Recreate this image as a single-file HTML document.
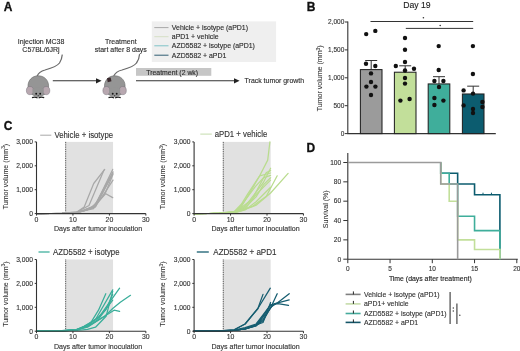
<!DOCTYPE html>
<html><head><meta charset="utf-8"><style>
html,body{margin:0;padding:0;background:#fff;width:520px;height:351px;overflow:hidden}
svg{display:block;font-family:"Liberation Sans", sans-serif;will-change:transform}
</style></head><body><div id="w">
<svg width="520" height="351" viewBox="0 0 520 351">
<rect width="520" height="351" fill="#fff"/>
<text transform="translate(3.7,11.1) scale(1,1.1)" font-size="12" text-anchor="start" fill="#111" font-weight="bold" stroke="#111" stroke-width="0.3">A</text>
<text transform="translate(41,44) scale(1,1.08)" font-size="7" text-anchor="middle" fill="#2b2b2b" font-weight="normal" stroke="#2b2b2b" stroke-width="0.12">Injection MC38</text>
<text transform="translate(41,51.5) scale(1,1.08)" font-size="7" text-anchor="middle" fill="#2b2b2b" font-weight="normal" stroke="#2b2b2b" stroke-width="0.12">C57BL/6JRj</text>
<text transform="translate(120.8,43.8) scale(1,1.08)" font-size="7" text-anchor="middle" fill="#2b2b2b" font-weight="normal" stroke="#2b2b2b" stroke-width="0.12">Treatment</text>
<text transform="translate(120.8,51.8) scale(1,1.08)" font-size="7" text-anchor="middle" fill="#2b2b2b" font-weight="normal" stroke="#2b2b2b" stroke-width="0.12">start after 8 days</text>
<g transform="translate(0,0)"><path d="M37.2,76 C38.5,72.5 41,71 45,70 C52,68 57,66.5 59.5,63 C61.5,60 62,57.5 62.2,55" fill="none" stroke="#6a6a6a" stroke-width="1.25" stroke-linecap="round"/><path d="M38,75.8 C44,75.6 48.6,80 48.6,86 C48.6,91.5 45,96.2 38.2,96.2 C31.5,96.2 28,91.5 28,86 C28,80.5 32,75.9 38,75.8 Z" fill="#959595" stroke="#6a6a6a" stroke-width="0.6"/><ellipse cx="29.9" cy="90.6" rx="3.5" ry="4.1" fill="#b8a8b0" stroke="#77707a" stroke-width="0.5"/><ellipse cx="46.3" cy="90.6" rx="3.5" ry="4.1" fill="#b8a8b0" stroke="#77707a" stroke-width="0.5"/><path d="M32.6,89.5 C33.6,87 42.6,87 43.6,89.5 C44.4,93 41.5,97 38.1,97 C34.7,97 31.8,93 32.6,89.5 Z" fill="#959595"/><circle cx="36.2" cy="93.7" r="0.95" fill="#151515"/><circle cx="40.2" cy="93.7" r="0.95" fill="#151515"/><circle cx="38.2" cy="95.7" r="0.6" fill="#333"/><path d="M32,97.6 Q35,96.4 37.6,97.9 M38.6,97.9 Q41.2,96.4 44.2,97.6" fill="none" stroke="#1d1d1d" stroke-width="1.2"/></g>
<g transform="translate(76.5,0)"><path d="M37.5,75.6 C39,72.5 41.5,71 45.5,70 C52.5,68 57.5,66.5 60,63 C62.3,60 62.8,57.5 63,54.5" fill="none" stroke="#6a6a6a" stroke-width="1.25" stroke-linecap="round"/><path d="M38,75.8 C44,75.6 48.6,80 48.6,86 C48.6,91.5 45,96.2 38.2,96.2 C31.5,96.2 28,91.5 28,86 C28,80.5 32,75.9 38,75.8 Z" fill="#959595" stroke="#6a6a6a" stroke-width="0.6"/><ellipse cx="29.9" cy="90.6" rx="3.5" ry="4.1" fill="#b8a8b0" stroke="#77707a" stroke-width="0.5"/><ellipse cx="46.3" cy="90.6" rx="3.5" ry="4.1" fill="#b8a8b0" stroke="#77707a" stroke-width="0.5"/><path d="M32.6,89.5 C33.6,87 42.6,87 43.6,89.5 C44.4,93 41.5,97 38.1,97 C34.7,97 31.8,93 32.6,89.5 Z" fill="#959595"/><circle cx="36.2" cy="93.7" r="0.95" fill="#151515"/><circle cx="40.2" cy="93.7" r="0.95" fill="#151515"/><circle cx="38.2" cy="95.7" r="0.6" fill="#333"/><path d="M32,97.6 Q35,96.4 37.6,97.9 M38.6,97.9 Q41.2,96.4 44.2,97.6" fill="none" stroke="#1d1d1d" stroke-width="1.2"/><rect x="30.8" y="77.8" width="3.8" height="4" fill="#3b2a2e" transform="rotate(-12 32.6 79.8)"/></g>
<line x1="52.8" y1="80.8" x2="97" y2="80.8" stroke="#333" stroke-width="1.1" />
<path d="M96 78.2 L101.6 80.8 L96 83.4 Z" fill="#222"/>
<line x1="136" y1="80.8" x2="235" y2="80.8" stroke="#333" stroke-width="1.1" />
<path d="M234 78.2 L239.6 80.8 L234 83.4 Z" fill="#222"/>
<rect x="136" y="68" width="75.3" height="7.8" fill="#c6c6c6"/>
<text transform="translate(172.2,74.6) scale(1,1.08)" font-size="6.9" text-anchor="middle" fill="#2b2b2b" font-weight="normal" stroke="#2b2b2b" stroke-width="0.12">Treatment (2 wk)</text>
<text transform="translate(244.6,82.8) scale(1,1.08)" font-size="6.95" text-anchor="start" fill="#2b2b2b" font-weight="normal" stroke="#2b2b2b" stroke-width="0.12">Track tumor growth</text>
<rect x="151.8" y="21.4" width="124.3" height="40.6" fill="#efefef"/>
<line x1="154.3" y1="27.6" x2="168.5" y2="27.6" stroke="#a8a8a8" stroke-width="1" />
<text transform="translate(171.8,30.0) scale(1,1.08)" font-size="6.95" text-anchor="start" fill="#2b2b2b" font-weight="normal" stroke="#2b2b2b" stroke-width="0.12">Vehicle + isotype (aPD1)</text>
<line x1="154.3" y1="36.7" x2="168.5" y2="36.7" stroke="#d6dfc6" stroke-width="1" />
<text transform="translate(171.8,39.1) scale(1,1.08)" font-size="6.95" text-anchor="start" fill="#2b2b2b" font-weight="normal" stroke="#2b2b2b" stroke-width="0.12">aPD1 + vehicle</text>
<line x1="154.3" y1="45.8" x2="168.5" y2="45.8" stroke="#7fc4c8" stroke-width="1" />
<text transform="translate(171.8,48.199999999999996) scale(1,1.08)" font-size="6.95" text-anchor="start" fill="#2b2b2b" font-weight="normal" stroke="#2b2b2b" stroke-width="0.12">AZD5582 + isotype (aPD1)</text>
<line x1="154.3" y1="55.2" x2="168.5" y2="55.2" stroke="#2f5d73" stroke-width="1" />
<text transform="translate(171.8,57.6) scale(1,1.08)" font-size="6.95" text-anchor="start" fill="#2b2b2b" font-weight="normal" stroke="#2b2b2b" stroke-width="0.12">AZD5582 + aPD1</text>
<text transform="translate(306.8,11.1) scale(1,1.1)" font-size="12" text-anchor="start" fill="#111" font-weight="bold" stroke="#111" stroke-width="0.3">B</text>
<text transform="translate(416.9,7.8) scale(1,1.12)" font-size="8.7" text-anchor="middle" fill="#1e1e1e" font-weight="normal" stroke="#1e1e1e" stroke-width="0.12">Day 19</text>
<line x1="347.8" y1="21.5" x2="347.8" y2="133.6" stroke="#333" stroke-width="1.1" />
<line x1="347.3" y1="133.6" x2="495.8" y2="133.6" stroke="#333" stroke-width="1.1" />
<line x1="344.8" y1="133.6" x2="347.8" y2="133.6" stroke="#333" stroke-width="1" />
<text transform="translate(344.3,135.79999999999998) scale(1,1.08)" font-size="6.5" text-anchor="end" fill="#333" font-weight="normal" stroke="#333" stroke-width="0.12">0</text>
<line x1="344.8" y1="105.69999999999999" x2="347.8" y2="105.69999999999999" stroke="#333" stroke-width="1" />
<text transform="translate(344.3,107.89999999999999) scale(1,1.08)" font-size="6.5" text-anchor="end" fill="#333" font-weight="normal" stroke="#333" stroke-width="0.12">500</text>
<line x1="344.8" y1="77.8" x2="347.8" y2="77.8" stroke="#333" stroke-width="1" />
<text transform="translate(344.3,80.0) scale(1,1.08)" font-size="6.5" text-anchor="end" fill="#333" font-weight="normal" stroke="#333" stroke-width="0.12">1,000</text>
<line x1="344.8" y1="49.900000000000006" x2="347.8" y2="49.900000000000006" stroke="#333" stroke-width="1" />
<text transform="translate(344.3,52.10000000000001) scale(1,1.08)" font-size="6.5" text-anchor="end" fill="#333" font-weight="normal" stroke="#333" stroke-width="0.12">1,500</text>
<line x1="344.8" y1="22.0" x2="347.8" y2="22.0" stroke="#333" stroke-width="1" />
<text transform="translate(344.3,24.2) scale(1,1.08)" font-size="6.5" text-anchor="end" fill="#333" font-weight="normal" stroke="#333" stroke-width="0.12">2,000</text>
<text transform="translate(322.4,78.3) rotate(-90) scale(1.06,1)" font-size="6.65" text-anchor="middle" fill="#333" stroke="#333" stroke-width="0.08">Tumor volume (mm<tspan font-size="4.6" dy="-2.5">3</tspan><tspan dy="2.5">)</tspan></text>
<rect x="360.4" y="69.5974" width="21.6" height="64.0026" fill="#9b9b9b" stroke="#222" stroke-width="1.05"/>
<line x1="371.2" y1="60.501999999999995" x2="371.2" y2="69.5974" stroke="#333" stroke-width="1" />
<line x1="365.2" y1="60.501999999999995" x2="377.2" y2="60.501999999999995" stroke="#333" stroke-width="1" />
<rect x="394.4" y="72.22" width="21.6" height="61.379999999999995" fill="#c2df9a" stroke="#222" stroke-width="1.05"/>
<line x1="405.2" y1="65.803" x2="405.2" y2="72.22" stroke="#333" stroke-width="1" />
<line x1="399.2" y1="65.803" x2="411.2" y2="65.803" stroke="#333" stroke-width="1" />
<rect x="428.2" y="83.93799999999999" width="21.6" height="49.662000000000006" fill="#3fae9b" stroke="#222" stroke-width="1.05"/>
<line x1="439.0" y1="76.684" x2="439.0" y2="83.93799999999999" stroke="#333" stroke-width="1" />
<line x1="433.0" y1="76.684" x2="445.0" y2="76.684" stroke="#333" stroke-width="1" />
<rect x="462.4" y="93.982" width="21.6" height="39.617999999999995" fill="#0c5c6f" stroke="#222" stroke-width="1.05"/>
<line x1="473.2" y1="86.17" x2="473.2" y2="93.982" stroke="#333" stroke-width="1" />
<line x1="467.2" y1="86.17" x2="479.2" y2="86.17" stroke="#333" stroke-width="1" />
<circle cx="366.2" cy="34.1" r="2.2" fill="#111"/>
<circle cx="375.3" cy="30.9" r="2.2" fill="#111"/>
<circle cx="366" cy="63.7" r="2.2" fill="#111"/>
<circle cx="375.3" cy="66" r="2.2" fill="#111"/>
<circle cx="371" cy="73.4" r="2.2" fill="#111"/>
<circle cx="371" cy="82" r="2.2" fill="#111"/>
<circle cx="366.4" cy="86.6" r="2.2" fill="#111"/>
<circle cx="375.4" cy="86.6" r="2.2" fill="#111"/>
<circle cx="371" cy="95" r="2.2" fill="#111"/>
<circle cx="405" cy="38" r="2.2" fill="#111"/>
<circle cx="405" cy="49.8" r="2.2" fill="#111"/>
<circle cx="405" cy="62" r="2.2" fill="#111"/>
<circle cx="395.8" cy="66" r="2.2" fill="#111"/>
<circle cx="414" cy="68.7" r="2.2" fill="#111"/>
<circle cx="405" cy="70.5" r="2.2" fill="#111"/>
<circle cx="405" cy="78" r="2.2" fill="#111"/>
<circle cx="405" cy="83.6" r="2.2" fill="#111"/>
<circle cx="400.4" cy="100.6" r="2.2" fill="#111"/>
<circle cx="409.6" cy="99" r="2.2" fill="#111"/>
<circle cx="438.7" cy="46.1" r="2.2" fill="#111"/>
<circle cx="438.7" cy="70" r="2.2" fill="#111"/>
<circle cx="434.4" cy="81" r="2.2" fill="#111"/>
<circle cx="443.4" cy="81" r="2.2" fill="#111"/>
<circle cx="439" cy="87" r="2.2" fill="#111"/>
<circle cx="434.4" cy="98" r="2.2" fill="#111"/>
<circle cx="443.4" cy="100.6" r="2.2" fill="#111"/>
<circle cx="434.4" cy="105" r="2.2" fill="#111"/>
<circle cx="472.9" cy="46.1" r="2.2" fill="#111"/>
<circle cx="472.9" cy="74" r="2.2" fill="#111"/>
<circle cx="463.6" cy="90.4" r="2.2" fill="#111"/>
<circle cx="473" cy="93.6" r="2.2" fill="#111"/>
<circle cx="463.6" cy="105.4" r="2.2" fill="#111"/>
<circle cx="473" cy="109" r="2.2" fill="#111"/>
<circle cx="473" cy="113" r="2.2" fill="#111"/>
<circle cx="482.4" cy="102" r="2.2" fill="#111"/>
<circle cx="482.4" cy="107" r="2.2" fill="#111"/>
<line x1="370.5" y1="21.5" x2="473.2" y2="21.5" stroke="#333" stroke-width="1" />
<line x1="405.8" y1="28.4" x2="473.2" y2="28.4" stroke="#333" stroke-width="1" />
<circle cx="423.4" cy="17.7" r="0.8" fill="#333"/><circle cx="440.2" cy="25.5" r="0.8" fill="#333"/>
<text transform="translate(3.7,129.6) scale(1,1.1)" font-size="12" text-anchor="start" fill="#111" font-weight="bold" stroke="#111" stroke-width="0.3">C</text>
<rect x="65.66" y="141.89999999999998" width="47.385000000000005" height="71.70000000000002" fill="#e1e1e1"/>
<line x1="65.66" y1="141.89999999999998" x2="65.66" y2="213.6" stroke="#333" stroke-width="0.9" stroke-dasharray="1 0.8"/>
<polyline points="36.5,213.6 51.1,213.5 62.0,213.2 76.6,212.2 84.2,207.0 93.7,183.5 104.7,169.4" fill="none" stroke="#a8a8a8" stroke-width="1.25" stroke-linejoin="round" stroke-linecap="round"/>
<polyline points="36.5,213.6 51.1,213.5 62.0,213.2 76.6,212.2 89.0,205.5 103.9,170.2" fill="none" stroke="#a8a8a8" stroke-width="1.25" stroke-linejoin="round" stroke-linecap="round"/>
<polyline points="36.5,213.6 51.1,213.5 62.0,213.4 76.6,212.6 83.9,210.7 93.7,208.6 112.7,169.4" fill="none" stroke="#a8a8a8" stroke-width="1.25" stroke-linejoin="round" stroke-linecap="round"/>
<polyline points="36.5,213.6 51.1,213.5 62.0,213.4 76.6,212.6 83.9,211.0 95.5,207.0 110.9,177.3" fill="none" stroke="#a8a8a8" stroke-width="1.25" stroke-linejoin="round" stroke-linecap="round"/>
<polyline points="36.5,213.6 51.1,213.5 62.0,213.4 76.6,212.4 83.9,210.0 94.8,205.7 105.8,193.7 112.7,197.6" fill="none" stroke="#a8a8a8" stroke-width="1.25" stroke-linejoin="round" stroke-linecap="round"/>
<polyline points="36.5,213.6 51.1,213.5 62.0,213.4 76.6,212.6 83.9,210.7 94.8,206.9 105.8,192.1 113.0,174.2" fill="none" stroke="#a8a8a8" stroke-width="1.25" stroke-linejoin="round" stroke-linecap="round"/>
<polyline points="36.5,213.6 51.1,213.5 62.0,213.4 76.6,212.6 83.9,210.5 94.8,206.4 113.0,173.0" fill="none" stroke="#a8a8a8" stroke-width="1.25" stroke-linejoin="round" stroke-linecap="round"/>
<polyline points="36.5,213.6 51.1,213.5 62.0,213.4 76.6,212.4 83.9,210.0 91.2,207.6 102.1,196.9 113.0,180.1" fill="none" stroke="#a8a8a8" stroke-width="1.25" stroke-linejoin="round" stroke-linecap="round"/>
<polyline points="36.5,213.6 51.1,213.5 62.0,213.4 76.6,212.9 87.5,210.0 94.8,205.2 113.0,171.8" fill="none" stroke="#a8a8a8" stroke-width="1.25" stroke-linejoin="round" stroke-linecap="round"/>
<line x1="36.5" y1="141.89999999999998" x2="36.5" y2="213.6" stroke="#333" stroke-width="1.1" />
<line x1="36.0" y1="213.6" x2="145.85" y2="213.6" stroke="#333" stroke-width="1.1" />
<line x1="34.7" y1="213.6" x2="36.5" y2="213.6" stroke="#333" stroke-width="1" />
<text transform="translate(32.9,215.9) scale(1,1.0)" font-size="6.7" text-anchor="end" fill="#333" font-weight="normal" stroke="#333" stroke-width="0.12">0</text>
<line x1="34.7" y1="189.7" x2="36.5" y2="189.7" stroke="#333" stroke-width="1" />
<text transform="translate(32.9,192.0) scale(1,1.0)" font-size="6.7" text-anchor="end" fill="#333" font-weight="normal" stroke="#333" stroke-width="0.12">1,000</text>
<line x1="34.7" y1="165.79999999999998" x2="36.5" y2="165.79999999999998" stroke="#333" stroke-width="1" />
<text transform="translate(32.9,168.1) scale(1,1.0)" font-size="6.7" text-anchor="end" fill="#333" font-weight="normal" stroke="#333" stroke-width="0.12">2,000</text>
<line x1="34.7" y1="141.89999999999998" x2="36.5" y2="141.89999999999998" stroke="#333" stroke-width="1" />
<text transform="translate(32.9,144.2) scale(1,1.0)" font-size="6.7" text-anchor="end" fill="#333" font-weight="normal" stroke="#333" stroke-width="0.12">3,000</text>
<line x1="36.5" y1="213.6" x2="36.5" y2="215.6" stroke="#333" stroke-width="1" />
<text transform="translate(36.5,221.79999999999998) scale(1,1.08)" font-size="6.9" text-anchor="middle" fill="#333" font-weight="normal" stroke="#333" stroke-width="0.12">0</text>
<line x1="72.95" y1="213.6" x2="72.95" y2="215.6" stroke="#333" stroke-width="1" />
<text transform="translate(72.95,221.79999999999998) scale(1,1.08)" font-size="6.9" text-anchor="middle" fill="#333" font-weight="normal" stroke="#333" stroke-width="0.12">10</text>
<line x1="109.4" y1="213.6" x2="109.4" y2="215.6" stroke="#333" stroke-width="1" />
<text transform="translate(109.4,221.79999999999998) scale(1,1.08)" font-size="6.9" text-anchor="middle" fill="#333" font-weight="normal" stroke="#333" stroke-width="0.12">20</text>
<line x1="145.85" y1="213.6" x2="145.85" y2="215.6" stroke="#333" stroke-width="1" />
<text transform="translate(145.85,221.79999999999998) scale(1,1.08)" font-size="6.9" text-anchor="middle" fill="#333" font-weight="normal" stroke="#333" stroke-width="0.12">30</text>
<text transform="translate(98.0,231.0) scale(1,1.08)" font-size="7.1" text-anchor="middle" fill="#333" font-weight="normal" stroke="#333" stroke-width="0.12">Days after tumor inoculation</text>
<text transform="translate(7.6,176.55) rotate(-90) scale(1.06,1)" font-size="6.6" text-anchor="middle" fill="#333" stroke="#333" stroke-width="0.08">Tumor volume (mm<tspan font-size="4.5" dy="-2.5">3</tspan><tspan dy="2.5">)</tspan></text>
<line x1="40.2" y1="135.2" x2="51.300000000000004" y2="135.2" stroke="#a8a8a8" stroke-width="1" />
<text transform="translate(54.4,137.7) scale(1,1.08)" font-size="7.8" text-anchor="start" fill="#333" font-weight="normal" stroke="#333" stroke-width="0.12">Vehicle + isotype</text>
<rect x="223.26" y="141.89999999999998" width="47.38499999999999" height="71.70000000000002" fill="#e1e1e1"/>
<line x1="223.26" y1="141.89999999999998" x2="223.26" y2="213.6" stroke="#333" stroke-width="0.9" stroke-dasharray="1 0.8"/>
<polyline points="194.1,213.6 208.7,213.5 219.6,213.2 234.2,211.7 241.5,206.4 250.6,191.4 259.7,175.8 267.7,160.1 269.9,141.9" fill="none" stroke="#b9dc8e" stroke-width="1.25" stroke-linejoin="round" stroke-linecap="round"/>
<polyline points="194.1,213.6 208.7,213.5 219.6,213.2 234.2,212.2 241.5,207.6 252.1,199.3 266.3,172.6 270.6,170.6" fill="none" stroke="#b9dc8e" stroke-width="1.25" stroke-linejoin="round" stroke-linecap="round"/>
<polyline points="194.1,213.6 208.7,213.5 219.6,213.2 234.2,212.4 241.5,210.0 252.4,206.4 266.3,196.2 277.2,175.8" fill="none" stroke="#b9dc8e" stroke-width="1.25" stroke-linejoin="round" stroke-linecap="round"/>
<polyline points="194.1,213.6 208.7,213.5 219.6,213.2 234.2,212.6 241.5,210.7 256.1,205.2 270.6,193.0 288.1,173.4" fill="none" stroke="#b9dc8e" stroke-width="1.25" stroke-linejoin="round" stroke-linecap="round"/>
<polyline points="194.1,213.6 208.7,213.5 219.6,213.2 234.2,211.7 241.5,204.0 247.3,194.6 259.7,175.8 270.6,173.0" fill="none" stroke="#b9dc8e" stroke-width="1.25" stroke-linejoin="round" stroke-linecap="round"/>
<polyline points="194.1,213.6 208.7,213.5 219.6,213.2 234.2,212.2 241.5,205.2 255.3,186.7 263.4,177.8 270.6,175.4" fill="none" stroke="#b9dc8e" stroke-width="1.25" stroke-linejoin="round" stroke-linecap="round"/>
<polyline points="194.1,213.6 208.7,213.5 219.6,213.4 234.2,212.6 245.1,207.6 256.1,196.9 263.4,184.9 270.6,177.8" fill="none" stroke="#b9dc8e" stroke-width="1.25" stroke-linejoin="round" stroke-linecap="round"/>
<polyline points="194.1,213.6 208.7,213.5 219.6,213.4 234.2,212.6 245.1,208.8 256.1,194.5 270.6,180.1" fill="none" stroke="#b9dc8e" stroke-width="1.25" stroke-linejoin="round" stroke-linecap="round"/>
<polyline points="194.1,213.6 208.7,213.5 219.6,213.4 234.2,212.9 245.1,210.0 256.1,201.7 270.6,187.3" fill="none" stroke="#b9dc8e" stroke-width="1.25" stroke-linejoin="round" stroke-linecap="round"/>
<polyline points="194.1,213.6 208.7,213.5 219.6,213.4 234.2,212.4 245.1,206.4 256.1,192.1 263.4,182.5 270.6,168.2" fill="none" stroke="#b9dc8e" stroke-width="1.25" stroke-linejoin="round" stroke-linecap="round"/>
<line x1="194.1" y1="141.89999999999998" x2="194.1" y2="213.6" stroke="#333" stroke-width="1.1" />
<line x1="193.6" y1="213.6" x2="303.45" y2="213.6" stroke="#333" stroke-width="1.1" />
<line x1="192.29999999999998" y1="213.6" x2="194.1" y2="213.6" stroke="#333" stroke-width="1" />
<text transform="translate(190.5,215.9) scale(1,1.0)" font-size="6.7" text-anchor="end" fill="#333" font-weight="normal" stroke="#333" stroke-width="0.12">0</text>
<line x1="192.29999999999998" y1="189.7" x2="194.1" y2="189.7" stroke="#333" stroke-width="1" />
<text transform="translate(190.5,192.0) scale(1,1.0)" font-size="6.7" text-anchor="end" fill="#333" font-weight="normal" stroke="#333" stroke-width="0.12">1,000</text>
<line x1="192.29999999999998" y1="165.79999999999998" x2="194.1" y2="165.79999999999998" stroke="#333" stroke-width="1" />
<text transform="translate(190.5,168.1) scale(1,1.0)" font-size="6.7" text-anchor="end" fill="#333" font-weight="normal" stroke="#333" stroke-width="0.12">2,000</text>
<line x1="192.29999999999998" y1="141.89999999999998" x2="194.1" y2="141.89999999999998" stroke="#333" stroke-width="1" />
<text transform="translate(190.5,144.2) scale(1,1.0)" font-size="6.7" text-anchor="end" fill="#333" font-weight="normal" stroke="#333" stroke-width="0.12">3,000</text>
<line x1="194.1" y1="213.6" x2="194.1" y2="215.6" stroke="#333" stroke-width="1" />
<text transform="translate(194.1,221.79999999999998) scale(1,1.08)" font-size="6.9" text-anchor="middle" fill="#333" font-weight="normal" stroke="#333" stroke-width="0.12">0</text>
<line x1="230.55" y1="213.6" x2="230.55" y2="215.6" stroke="#333" stroke-width="1" />
<text transform="translate(230.55,221.79999999999998) scale(1,1.08)" font-size="6.9" text-anchor="middle" fill="#333" font-weight="normal" stroke="#333" stroke-width="0.12">10</text>
<line x1="267.0" y1="213.6" x2="267.0" y2="215.6" stroke="#333" stroke-width="1" />
<text transform="translate(267.0,221.79999999999998) scale(1,1.08)" font-size="6.9" text-anchor="middle" fill="#333" font-weight="normal" stroke="#333" stroke-width="0.12">20</text>
<line x1="303.45" y1="213.6" x2="303.45" y2="215.6" stroke="#333" stroke-width="1" />
<text transform="translate(303.45,221.79999999999998) scale(1,1.08)" font-size="6.9" text-anchor="middle" fill="#333" font-weight="normal" stroke="#333" stroke-width="0.12">30</text>
<text transform="translate(255.6,231.0) scale(1,1.08)" font-size="7.1" text-anchor="middle" fill="#333" font-weight="normal" stroke="#333" stroke-width="0.12">Days after tumor inoculation</text>
<text transform="translate(165.2,176.55) rotate(-90) scale(1.06,1)" font-size="6.6" text-anchor="middle" fill="#333" stroke="#333" stroke-width="0.08">Tumor volume (mm<tspan font-size="4.5" dy="-2.5">3</tspan><tspan dy="2.5">)</tspan></text>
<line x1="200.3" y1="134.1" x2="211.8" y2="134.1" stroke="#c4dcae" stroke-width="1" />
<text transform="translate(214.7,136.6) scale(1,1.08)" font-size="7.8" text-anchor="start" fill="#333" font-weight="normal" stroke="#333" stroke-width="0.12">aPD1 + vehicle</text>
<rect x="65.66" y="259.5" width="47.385000000000005" height="71.69999999999999" fill="#e1e1e1"/>
<line x1="65.66" y1="259.5" x2="65.66" y2="331.2" stroke="#333" stroke-width="0.9" stroke-dasharray="1 0.8"/>
<polyline points="36.5,331.2 51.1,331.0 62.0,330.7 76.6,329.3 89.0,325.7 98.5,310.2 105.8,293.7" fill="none" stroke="#3aae9a" stroke-width="1.25" stroke-linejoin="round" stroke-linecap="round"/>
<polyline points="36.5,331.2 51.1,331.0 62.0,330.7 76.6,329.5 83.9,326.4 95.5,319.5 112.7,289.9" fill="none" stroke="#3aae9a" stroke-width="1.25" stroke-linejoin="round" stroke-linecap="round"/>
<polyline points="36.5,331.2 51.1,331.0 62.0,330.8 76.6,329.8 83.9,326.9 98.5,317.8 119.6,288.2" fill="none" stroke="#3aae9a" stroke-width="1.25" stroke-linejoin="round" stroke-linecap="round"/>
<polyline points="36.5,331.2 51.1,331.0 62.0,330.8 76.6,330.0 87.5,326.4 104.7,316.3 112.7,308.5 120.3,302.3 130.5,295.3" fill="none" stroke="#3aae9a" stroke-width="1.25" stroke-linejoin="round" stroke-linecap="round"/>
<polyline points="36.5,331.2 51.1,331.0 62.0,330.8 76.6,330.0 87.5,327.1 102.1,317.8 114.1,310.2 119.6,311.4" fill="none" stroke="#3aae9a" stroke-width="1.25" stroke-linejoin="round" stroke-linecap="round"/>
<polyline points="36.5,331.2 51.1,331.1 62.0,331.0 76.6,330.5 87.5,329.3 95.5,327.2 106.1,316.3 112.7,291.3" fill="none" stroke="#3aae9a" stroke-width="1.25" stroke-linejoin="round" stroke-linecap="round"/>
<polyline points="36.5,331.2 51.1,331.0 62.0,330.8 76.6,329.8 87.5,325.2 98.5,316.9 105.8,309.7 112.7,294.2" fill="none" stroke="#3aae9a" stroke-width="1.25" stroke-linejoin="round" stroke-linecap="round"/>
<polyline points="36.5,331.2 51.1,331.0 62.0,330.8 76.6,329.8 87.5,326.4 98.5,319.2 112.7,300.1" fill="none" stroke="#3aae9a" stroke-width="1.25" stroke-linejoin="round" stroke-linecap="round"/>
<line x1="36.5" y1="259.5" x2="36.5" y2="331.2" stroke="#333" stroke-width="1.1" />
<line x1="36.0" y1="331.2" x2="145.85" y2="331.2" stroke="#333" stroke-width="1.1" />
<line x1="34.7" y1="331.2" x2="36.5" y2="331.2" stroke="#333" stroke-width="1" />
<text transform="translate(32.9,333.5) scale(1,1.0)" font-size="6.7" text-anchor="end" fill="#333" font-weight="normal" stroke="#333" stroke-width="0.12">0</text>
<line x1="34.7" y1="307.3" x2="36.5" y2="307.3" stroke="#333" stroke-width="1" />
<text transform="translate(32.9,309.6) scale(1,1.0)" font-size="6.7" text-anchor="end" fill="#333" font-weight="normal" stroke="#333" stroke-width="0.12">1,000</text>
<line x1="34.7" y1="283.4" x2="36.5" y2="283.4" stroke="#333" stroke-width="1" />
<text transform="translate(32.9,285.7) scale(1,1.0)" font-size="6.7" text-anchor="end" fill="#333" font-weight="normal" stroke="#333" stroke-width="0.12">2,000</text>
<line x1="34.7" y1="259.5" x2="36.5" y2="259.5" stroke="#333" stroke-width="1" />
<text transform="translate(32.9,261.8) scale(1,1.0)" font-size="6.7" text-anchor="end" fill="#333" font-weight="normal" stroke="#333" stroke-width="0.12">3,000</text>
<line x1="36.5" y1="331.2" x2="36.5" y2="333.2" stroke="#333" stroke-width="1" />
<text transform="translate(36.5,339.4) scale(1,1.08)" font-size="6.9" text-anchor="middle" fill="#333" font-weight="normal" stroke="#333" stroke-width="0.12">0</text>
<line x1="72.95" y1="331.2" x2="72.95" y2="333.2" stroke="#333" stroke-width="1" />
<text transform="translate(72.95,339.4) scale(1,1.08)" font-size="6.9" text-anchor="middle" fill="#333" font-weight="normal" stroke="#333" stroke-width="0.12">10</text>
<line x1="109.4" y1="331.2" x2="109.4" y2="333.2" stroke="#333" stroke-width="1" />
<text transform="translate(109.4,339.4) scale(1,1.08)" font-size="6.9" text-anchor="middle" fill="#333" font-weight="normal" stroke="#333" stroke-width="0.12">20</text>
<line x1="145.85" y1="331.2" x2="145.85" y2="333.2" stroke="#333" stroke-width="1" />
<text transform="translate(145.85,339.4) scale(1,1.08)" font-size="6.9" text-anchor="middle" fill="#333" font-weight="normal" stroke="#333" stroke-width="0.12">30</text>
<text transform="translate(98.0,348.59999999999997) scale(1,1.08)" font-size="7.1" text-anchor="middle" fill="#333" font-weight="normal" stroke="#333" stroke-width="0.12">Days after tumor inoculation</text>
<text transform="translate(7.6,294.15000000000003) rotate(-90) scale(1.06,1)" font-size="6.6" text-anchor="middle" fill="#333" stroke="#333" stroke-width="0.08">Tumor volume (mm<tspan font-size="4.5" dy="-2.5">3</tspan><tspan dy="2.5">)</tspan></text>
<line x1="38.5" y1="252" x2="49.6" y2="252" stroke="#3aae9a" stroke-width="1.25" />
<text transform="translate(53,254.5) scale(1,1.08)" font-size="7.8" text-anchor="start" fill="#333" font-weight="normal" stroke="#333" stroke-width="0.12">AZD5582 + isotype</text>
<rect x="223.26" y="259.5" width="47.38499999999999" height="71.69999999999999" fill="#e1e1e1"/>
<line x1="223.26" y1="259.5" x2="223.26" y2="331.2" stroke="#333" stroke-width="0.9" stroke-dasharray="1 0.8"/>
<polyline points="194.1,331.2 208.7,331.1 219.6,330.8 234.2,329.8 245.1,324.0 257.9,308.5 263.0,294.4" fill="none" stroke="#165d70" stroke-width="1.25" stroke-linejoin="round" stroke-linecap="round"/>
<polyline points="194.1,331.2 208.7,331.1 219.6,330.8 234.2,329.8 245.1,324.0 257.9,308.5 270.3,288.2" fill="none" stroke="#165d70" stroke-width="1.25" stroke-linejoin="round" stroke-linecap="round"/>
<polyline points="194.1,331.2 208.7,331.1 219.6,331.0 234.2,330.5 245.1,328.8 256.1,325.2 263.4,319.2 270.3,308.5 277.2,293.7" fill="none" stroke="#165d70" stroke-width="1.25" stroke-linejoin="round" stroke-linecap="round"/>
<polyline points="194.1,331.2 208.7,331.1 219.6,331.0 234.2,330.5 245.1,328.8 256.1,325.7 263.4,320.4 270.6,307.3 277.9,302.5 289.2,293.7" fill="none" stroke="#165d70" stroke-width="1.25" stroke-linejoin="round" stroke-linecap="round"/>
<polyline points="194.1,331.2 208.7,331.1 219.6,331.0 234.2,330.5 245.1,329.0 256.1,325.9 263.4,316.9 273.9,303.8 289.2,299.9" fill="none" stroke="#165d70" stroke-width="1.25" stroke-linejoin="round" stroke-linecap="round"/>
<polyline points="194.1,331.2 208.7,331.1 219.6,331.0 234.2,330.5 245.1,328.8 256.1,325.2 263.4,315.7 270.6,304.9 277.9,303.7 288.5,305.4" fill="none" stroke="#165d70" stroke-width="1.25" stroke-linejoin="round" stroke-linecap="round"/>
<polyline points="194.1,331.2 208.7,331.1 219.6,331.0 234.2,330.5 245.1,328.8 253.9,325.7 263.0,322.5 270.6,302.5" fill="none" stroke="#165d70" stroke-width="1.25" stroke-linejoin="round" stroke-linecap="round"/>
<polyline points="194.1,331.2 208.7,331.1 219.6,331.0 234.2,330.2 245.1,327.6 256.1,324.0 263.4,314.5 270.6,304.9" fill="none" stroke="#165d70" stroke-width="1.25" stroke-linejoin="round" stroke-linecap="round"/>
<line x1="194.1" y1="259.5" x2="194.1" y2="331.2" stroke="#333" stroke-width="1.1" />
<line x1="193.6" y1="331.2" x2="303.45" y2="331.2" stroke="#333" stroke-width="1.1" />
<line x1="192.29999999999998" y1="331.2" x2="194.1" y2="331.2" stroke="#333" stroke-width="1" />
<text transform="translate(190.5,333.5) scale(1,1.0)" font-size="6.7" text-anchor="end" fill="#333" font-weight="normal" stroke="#333" stroke-width="0.12">0</text>
<line x1="192.29999999999998" y1="307.3" x2="194.1" y2="307.3" stroke="#333" stroke-width="1" />
<text transform="translate(190.5,309.6) scale(1,1.0)" font-size="6.7" text-anchor="end" fill="#333" font-weight="normal" stroke="#333" stroke-width="0.12">1,000</text>
<line x1="192.29999999999998" y1="283.4" x2="194.1" y2="283.4" stroke="#333" stroke-width="1" />
<text transform="translate(190.5,285.7) scale(1,1.0)" font-size="6.7" text-anchor="end" fill="#333" font-weight="normal" stroke="#333" stroke-width="0.12">2,000</text>
<line x1="192.29999999999998" y1="259.5" x2="194.1" y2="259.5" stroke="#333" stroke-width="1" />
<text transform="translate(190.5,261.8) scale(1,1.0)" font-size="6.7" text-anchor="end" fill="#333" font-weight="normal" stroke="#333" stroke-width="0.12">3,000</text>
<line x1="194.1" y1="331.2" x2="194.1" y2="333.2" stroke="#333" stroke-width="1" />
<text transform="translate(194.1,339.4) scale(1,1.08)" font-size="6.9" text-anchor="middle" fill="#333" font-weight="normal" stroke="#333" stroke-width="0.12">0</text>
<line x1="230.55" y1="331.2" x2="230.55" y2="333.2" stroke="#333" stroke-width="1" />
<text transform="translate(230.55,339.4) scale(1,1.08)" font-size="6.9" text-anchor="middle" fill="#333" font-weight="normal" stroke="#333" stroke-width="0.12">10</text>
<line x1="267.0" y1="331.2" x2="267.0" y2="333.2" stroke="#333" stroke-width="1" />
<text transform="translate(267.0,339.4) scale(1,1.08)" font-size="6.9" text-anchor="middle" fill="#333" font-weight="normal" stroke="#333" stroke-width="0.12">20</text>
<line x1="303.45" y1="331.2" x2="303.45" y2="333.2" stroke="#333" stroke-width="1" />
<text transform="translate(303.45,339.4) scale(1,1.08)" font-size="6.9" text-anchor="middle" fill="#333" font-weight="normal" stroke="#333" stroke-width="0.12">30</text>
<text transform="translate(255.6,348.59999999999997) scale(1,1.08)" font-size="7.1" text-anchor="middle" fill="#333" font-weight="normal" stroke="#333" stroke-width="0.12">Days after tumor inoculation</text>
<text transform="translate(165.2,294.15000000000003) rotate(-90) scale(1.06,1)" font-size="6.6" text-anchor="middle" fill="#333" stroke="#333" stroke-width="0.08">Tumor volume (mm<tspan font-size="4.5" dy="-2.5">3</tspan><tspan dy="2.5">)</tspan></text>
<line x1="196.8" y1="252" x2="208.8" y2="252" stroke="#165d70" stroke-width="1.3" />
<text transform="translate(213.3,254.5) scale(1,1.08)" font-size="8.05" text-anchor="start" fill="#333" font-weight="normal" stroke="#333" stroke-width="0.12">AZD5582 + aPD1</text>
<text transform="translate(306.6,152) scale(1,1.1)" font-size="12" text-anchor="start" fill="#111" font-weight="bold" stroke="#111" stroke-width="0.3">D</text>
<line x1="347.8" y1="153" x2="347.8" y2="259.2" stroke="#333" stroke-width="1.1" />
<line x1="347.8" y1="259.2" x2="517.8" y2="259.2" stroke="#333" stroke-width="1.1" />
<line x1="343.3" y1="259.2" x2="347.8" y2="259.2" stroke="#333" stroke-width="1" />
<text transform="translate(341.2,261.5) scale(1,1.08)" font-size="6.6" text-anchor="end" fill="#333" font-weight="normal" stroke="#333" stroke-width="0.12">0</text>
<line x1="343.3" y1="239.85999999999999" x2="347.8" y2="239.85999999999999" stroke="#333" stroke-width="1" />
<text transform="translate(341.2,242.16) scale(1,1.08)" font-size="6.6" text-anchor="end" fill="#333" font-weight="normal" stroke="#333" stroke-width="0.12">20</text>
<line x1="343.3" y1="220.51999999999998" x2="347.8" y2="220.51999999999998" stroke="#333" stroke-width="1" />
<text transform="translate(341.2,222.82) scale(1,1.08)" font-size="6.6" text-anchor="end" fill="#333" font-weight="normal" stroke="#333" stroke-width="0.12">40</text>
<line x1="343.3" y1="201.18" x2="347.8" y2="201.18" stroke="#333" stroke-width="1" />
<text transform="translate(341.2,203.48000000000002) scale(1,1.08)" font-size="6.6" text-anchor="end" fill="#333" font-weight="normal" stroke="#333" stroke-width="0.12">60</text>
<line x1="343.3" y1="181.83999999999997" x2="347.8" y2="181.83999999999997" stroke="#333" stroke-width="1" />
<text transform="translate(341.2,184.14) scale(1,1.08)" font-size="6.6" text-anchor="end" fill="#333" font-weight="normal" stroke="#333" stroke-width="0.12">80</text>
<line x1="343.3" y1="162.5" x2="347.8" y2="162.5" stroke="#333" stroke-width="1" />
<text transform="translate(341.2,164.8) scale(1,1.08)" font-size="6.6" text-anchor="end" fill="#333" font-weight="normal" stroke="#333" stroke-width="0.12">100</text>
<line x1="347.8" y1="259.2" x2="347.8" y2="263.2" stroke="#333" stroke-width="1" />
<text transform="translate(347.8,271.4) scale(1,1.08)" font-size="6.5" text-anchor="middle" fill="#333" font-weight="normal" stroke="#333" stroke-width="0.12">0</text>
<line x1="390.05" y1="259.2" x2="390.05" y2="263.2" stroke="#333" stroke-width="1" />
<text transform="translate(390.05,271.4) scale(1,1.08)" font-size="6.5" text-anchor="middle" fill="#333" font-weight="normal" stroke="#333" stroke-width="0.12">5</text>
<line x1="432.3" y1="259.2" x2="432.3" y2="263.2" stroke="#333" stroke-width="1" />
<text transform="translate(432.3,271.4) scale(1,1.08)" font-size="6.5" text-anchor="middle" fill="#333" font-weight="normal" stroke="#333" stroke-width="0.12">10</text>
<line x1="474.55" y1="259.2" x2="474.55" y2="263.2" stroke="#333" stroke-width="1" />
<text transform="translate(474.55,271.4) scale(1,1.08)" font-size="6.5" text-anchor="middle" fill="#333" font-weight="normal" stroke="#333" stroke-width="0.12">15</text>
<line x1="516.8" y1="259.2" x2="516.8" y2="263.2" stroke="#333" stroke-width="1" />
<text transform="translate(516.8,271.4) scale(1,1.08)" font-size="6.5" text-anchor="middle" fill="#333" font-weight="normal" stroke="#333" stroke-width="0.12">20</text>
<text transform="translate(430.3,280.7) scale(1,1.08)" font-size="6.9" text-anchor="middle" fill="#222" font-weight="normal" stroke="#222" stroke-width="0.12">Time (days after treatment)</text>
<text transform="translate(328,209.3) rotate(-90)" font-size="7" text-anchor="middle" fill="#333" stroke="#333" stroke-width="0.08">Survival (%)</text>
<path d="M440.75,162.5 H440.75 V173.2337 H457.65 V183.9674 H474.55 V194.7011 H499.9 V259.2" fill="none" stroke="#0c5c6f" stroke-width="1.6"/>
<path d="M440.75,162.5 H440.75 V173.2337 H449.2 V183.9674 H457.65 V216.2652 H474.55 V230.6735 H499.9 V259.2" fill="none" stroke="#3fae9b" stroke-width="1.6"/>
<path d="M440.75,162.5 H440.75 V183.9674 H449.2 V201.18 H457.65 V239.85999999999999 H474.55 V249.53 H499.9 V259.2" fill="none" stroke="#c2df9a" stroke-width="1.6"/>
<path d="M347.8,162.5 H440.75 V183.9674 H457.65 V259.2" fill="none" stroke="#9b9b9b" stroke-width="1.6"/>
<line x1="483.0" y1="194.7011" x2="483.0" y2="192.7011" stroke="#0c5c6f" stroke-width="1" />
<line x1="491.45" y1="194.7011" x2="491.45" y2="192.7011" stroke="#0c5c6f" stroke-width="1" />
<line x1="345.6" y1="294.4" x2="360.6" y2="294.4" stroke="#7f7f7f" stroke-width="1.6" />
<line x1="353.4" y1="294.4" x2="353.4" y2="291.4" stroke="#111" stroke-width="0.9" />
<text transform="translate(364,296.5) scale(1,1.08)" font-size="6.9" text-anchor="start" fill="#333" font-weight="normal" stroke="#333" stroke-width="0.12">Vehicle + isotype (aPD1)</text>
<line x1="345.6" y1="303.9" x2="360.6" y2="303.9" stroke="#c6dcaa" stroke-width="1.6" />
<line x1="353.4" y1="303.9" x2="353.4" y2="300.9" stroke="#111" stroke-width="0.9" />
<text transform="translate(364,306.0) scale(1,1.08)" font-size="6.9" text-anchor="start" fill="#333" font-weight="normal" stroke="#333" stroke-width="0.12">aPD1+ vehicle</text>
<line x1="345.6" y1="313.5" x2="360.6" y2="313.5" stroke="#45aa9c" stroke-width="1.6" />
<line x1="353.4" y1="313.5" x2="353.4" y2="310.5" stroke="#111" stroke-width="0.9" />
<text transform="translate(364,315.6) scale(1,1.08)" font-size="6.9" text-anchor="start" fill="#333" font-weight="normal" stroke="#333" stroke-width="0.12">AZD5582 + isotype (aPD1)</text>
<line x1="345.6" y1="322.4" x2="360.6" y2="322.4" stroke="#145568" stroke-width="1.6" />
<line x1="353.4" y1="322.4" x2="353.4" y2="319.4" stroke="#111" stroke-width="0.9" />
<text transform="translate(364,324.5) scale(1,1.08)" font-size="6.9" text-anchor="start" fill="#333" font-weight="normal" stroke="#333" stroke-width="0.12">AZD5582 + aPD1</text>
<line x1="450.1" y1="292" x2="450.1" y2="324.1" stroke="#555" stroke-width="1.3" />
<line x1="456.9" y1="303.6" x2="456.9" y2="324.1" stroke="#555" stroke-width="1.3" />
<circle cx="453.3" cy="307.9" r="0.75" fill="#444"/><circle cx="453.3" cy="310.9" r="0.75" fill="#444"/><circle cx="459.8" cy="315.2" r="0.75" fill="#444"/>
</svg></div>
</body></html>
